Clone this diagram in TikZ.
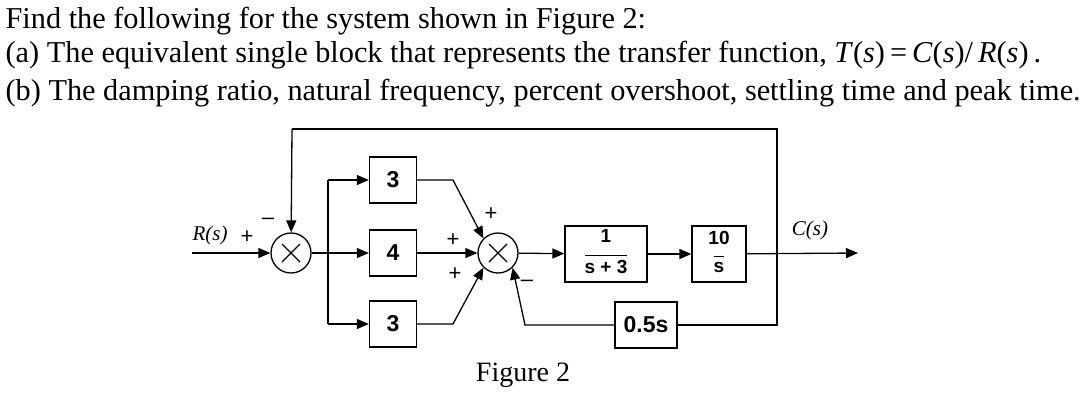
\documentclass[tikz,border=0pt]{standalone}
\usepackage{fontspec}
\usepackage{calc}
\setmainfont{Liberation Serif}
\newfontfamily\blk{Liberation Sans}
\usetikzlibrary{arrows.meta}
\newcommand{\myfrac}[2]{\renewcommand{\arraystretch}{0.75}\begin{tabular}{@{}c@{}}#1\\[-2pt]\rule{\widthof{#2}}{1.4pt}\\#2\end{tabular}}
\begin{document}
\begin{tikzpicture}[x=1pt,y=-1pt,
  line width=1.3pt,
  blk/.style={draw,minimum width=#1,minimum height=46pt,inner sep=0pt,font=\blk\bfseries\fontsize{23}{24}\selectfont},
  blk/.default=47pt,
  sum/.style={draw,circle,minimum size=40pt,inner sep=0pt,path picture={\draw[line width=1.3pt] (path picture bounding box.north west)++(11pt,-11pt) -- ++(18pt,-18pt) (path picture bounding box.north east)++(-11pt,-11pt) -- ++(-18pt,-18pt);}},
  arr/.style={-{Triangle[length=12pt,width=10pt]}},
  sg/.style={font=\blk\fontsize{22}{22}\selectfont,inner sep=0pt},
  lbl/.style={font=\itshape\fontsize{21}{21}\selectfont,inner sep=0pt},
  txt/.style={anchor=base west,inner sep=0pt,font=\fontsize{30.3}{30}\selectfont}]
\useasboundingbox (0,0) rectangle (1083,400);
\node[txt] (l1) at (5,28) {Find the following for the system shown in Figure 2:};
\node[txt] (l2) at (5,62) {(a) The equivalent single block that represents the transfer function, \textit{T}(\textit{s})\,=\,\textit{C}(\textit{s})/\,\textit{R}(\textit{s})\,.};
\node[txt] (l3) at (5,100) {(b) The damping ratio, natural frequency, percent overshoot, settling time and peak time.};
\node[font=\fontsize{28}{28}\selectfont,anchor=base] (fig) at (523,381) {Figure 2};

\coordinate (in) at (192,253);
\node[sum] (s1) at (291,253) {};
\coordinate (br) at (328,253);
\node[blk] (b1) at (393,180) {3};
\node[blk] (b2) at (393,253) {4};
\node[blk] (b3) at (393,324) {3};
\node[sum] (s2) at (498,253) {};
\node[blk=82pt,minimum height=56pt,font=\blk\bfseries\fontsize{19}{20}\selectfont] (g1) at (606,254) {\myfrac{1}{s + 3}};
\node[blk=54pt,minimum height=56pt,font=\blk\bfseries\fontsize{19}{20}\selectfont] (g2) at (719,254) {\myfrac{10}{s}};
\node[blk=62pt] (h) at (646,325) {0.5s};
\coordinate (out) at (858,253);
\coordinate (rv) at (777,253);
\coordinate (tl) at (292,129);

\draw[arr] (in) -- (s1);
\draw (s1) -- (br);
\draw[arr] (br) -- (b2);
\draw[arr] (br |- b1) -- (b1);
\draw[arr] (br |- b3) -- (b3);
\draw (br |- b1) -- (br |- b3);
\coordinate (t1) at (453,180);
\coordinate (t3) at (453,324);
\draw[arr] (b1) -- (t1) -- (s2.north west);
\draw[arr] (b2) -- (s2);
\draw[arr] (b3) -- (t3) -- (s2.south west);
\draw[arr] (s2) -- (g1);
\draw[arr] (g1) -- (g2);
\draw[arr] (g2) -- (out);
\draw (rv) -- (rv |- tl) -- (tl);
\draw[arr] (tl) -- (s1);
\coordinate (f1) at (525,325);
\draw (rv) -- (rv |- h) -- (h);
\draw[arr] (h) -- (f1) -- (s2.south east);

\node[lbl] (R) at (210,235) {R(s)};
\node[lbl] (C) at (810,230) {C(s)};
\node[sg] (p1) at (247,237) {+};
\node[sg] (m1) at (268,221) {–};
\node[sg] (p2) at (491,214) {+};
\node[sg] (p3) at (453,240) {+};
\node[sg] (p4) at (455,274) {+};
\node[sg] (m2) at (527,283) {–};
\end{tikzpicture}
\end{document}
